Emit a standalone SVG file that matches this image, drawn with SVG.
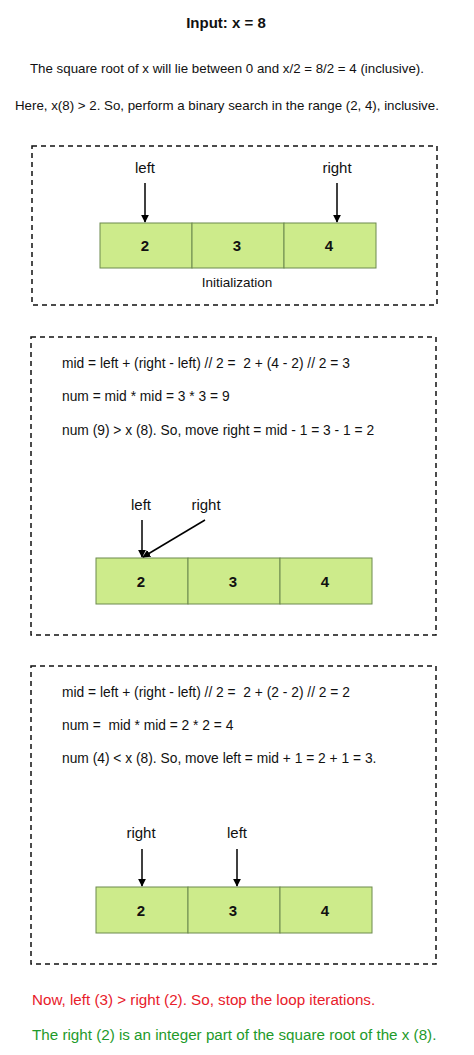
<svg xmlns="http://www.w3.org/2000/svg" width="474" height="1055" viewBox="0 0 474 1055">
<defs>
<marker id="ah" viewBox="0 0 10 10" refX="9" refY="5" markerWidth="8" markerHeight="8" markerUnits="userSpaceOnUse" orient="auto">
<path d="M0,0 L10,5 L0,10 z" fill="#000"/>
</marker>
<style>
text{font-family:"Liberation Sans",Arial,sans-serif;fill:#111;white-space:pre}
.t{font-size:13.3px}
.s{font-size:13.8px}
.l{font-size:15px}
.b{font-weight:bold;font-size:15px}
.box{fill:none;stroke:#111;stroke-width:1.5;stroke-dasharray:5,4}
.cell{fill:#cdeb8b;stroke:#6d8a4e;stroke-width:1}
.arr{stroke:#000;stroke-width:1.5;fill:none;marker-end:url(#ah)}
</style>
</defs>
<rect width="474" height="1055" fill="#fff"/>
<g id="header">
<text x="226" y="28" text-anchor="middle" style="font-size:15px;font-weight:bold">Input: x = 8</text>
<text x="30" y="73" class="t">The square root of x will lie between 0 and x/2 = 8/2 = 4 (inclusive).</text>
<text x="15" y="110" class="t">Here, x(8) &gt; 2. So, perform a binary search in the range (2, 4), inclusive.</text>
</g>
<g id="step1">
<rect class="box" x="32" y="146" width="405" height="159"/>
<g id="arr1">
<rect class="cell" x="100" y="223" width="92" height="45"/>
<rect class="cell" x="192" y="223" width="92" height="45"/>
<rect class="cell" x="284" y="223" width="92" height="45"/>
<text x="145" y="251" text-anchor="middle" class="b">2</text>
<text x="237" y="251" text-anchor="middle" class="b">3</text>
<text x="329" y="251" text-anchor="middle" class="b">4</text>
</g>
<text x="145" y="173" text-anchor="middle" class="l">left</text>
<text x="337" y="173" text-anchor="middle" class="l">right</text>
<text x="237" y="287" text-anchor="middle" style="font-size:13.5px">Initialization</text>
</g>
<g id="step2">
<rect class="box" x="31" y="337" width="405" height="298"/>
<text x="62" y="368" class="s">mid = left + (right - left) // 2 =  2 + (4 - 2) // 2 = 3</text>
<text x="62" y="401" class="s">num = mid * mid = 3 * 3 = 9</text>
<text x="62" y="435" class="s">num (9) &gt; x (8). So, move right = mid - 1 = 3 - 1 = 2</text>
<text x="141" y="510" text-anchor="middle" class="l">left</text>
<text x="206" y="510" text-anchor="middle" class="l">right</text>
<g id="arr2">
<rect class="cell" x="96" y="558" width="92" height="46"/>
<rect class="cell" x="188" y="558" width="92" height="46"/>
<rect class="cell" x="280" y="558" width="92" height="46"/>
<text x="141" y="587" text-anchor="middle" class="b">2</text>
<text x="233" y="587" text-anchor="middle" class="b">3</text>
<text x="325" y="587" text-anchor="middle" class="b">4</text>
</g>
</g>
<g id="step3">
<rect class="box" x="31" y="666" width="405" height="298"/>
<text x="62" y="697" class="s">mid = left + (right - left) // 2 =  2 + (2 - 2) // 2 = 2</text>
<text x="62" y="730" class="s">num =  mid * mid = 2 * 2 = 4</text>
<text x="62" y="763" class="s">num (4) &lt; x (8). So, move left = mid + 1 = 2 + 1 = 3.</text>
<text x="141" y="838" text-anchor="middle" class="l">right</text>
<text x="237" y="838" text-anchor="middle" class="l">left</text>
<g id="arr3">
<rect class="cell" x="96" y="887" width="92" height="46"/>
<rect class="cell" x="188" y="887" width="92" height="46"/>
<rect class="cell" x="280" y="887" width="92" height="46"/>
<text x="141" y="916" text-anchor="middle" class="b">2</text>
<text x="233" y="916" text-anchor="middle" class="b">3</text>
<text x="325" y="916" text-anchor="middle" class="b">4</text>
</g>
</g>
<g id="connectors">
<line class="arr" x1="145" y1="183" x2="145" y2="222"/>
<line class="arr" x1="337" y1="183" x2="337" y2="222"/>
<line class="arr" x1="142" y1="520" x2="142" y2="557"/>
<line class="arr" x1="205" y1="520" x2="143" y2="557"/>
<line class="arr" x1="142" y1="849" x2="142" y2="886"/>
<line class="arr" x1="237" y1="849" x2="237" y2="886"/>
</g>
<g id="footer">
<text x="32" y="1005" style="font-size:15.2px;fill:#e8202a">Now, left (3) &gt; right (2). So, stop the loop iterations.</text>
<text x="32" y="1040" style="font-size:15.2px;fill:#1e9a2a">The right (2) is an integer part of the square root of the x (8).</text>
</g>
</svg>
